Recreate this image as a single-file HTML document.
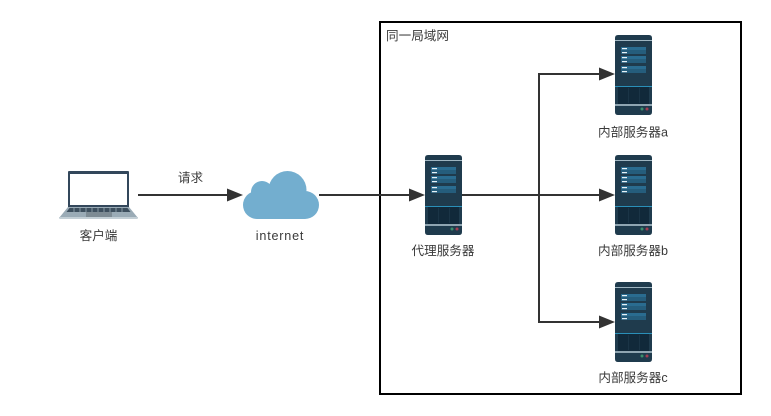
<!DOCTYPE html>
<html><head><meta charset="utf-8"><style>
html,body{margin:0;padding:0;background:#fff}
svg{display:block}
text{font-family:"Liberation Sans","Noto Sans CJK SC",sans-serif;font-size:12.6px;fill:#3a3a3a;text-anchor:middle}
</style></head><body>
<svg width="771" height="416" viewBox="0 0 771 416" xmlns="http://www.w3.org/2000/svg">
<defs>
<g id="srv">
<path d="M3 0H34Q37 0 37 3V77Q37 80 34 80H3Q0 80 0 77V3Q0 0 3 0Z" fill="#1f3b4d"/>
<rect x="0" y="5" width="37" height="1" fill="#9fb6c2"/>
<rect x="0" y="51" width="37" height="1" fill="#2a8fb8"/>
<rect x="3" y="52" width="31" height="17" fill="#11293a"/>
<rect x="13" y="53" width="1" height="15" fill="#1a3446"/>
<rect x="24" y="53" width="1" height="15" fill="#1a3446"/>
<rect x="0" y="69" width="37" height="2" fill="#8fa5b1"/>
<rect x="6" y="12" width="25" height="7" fill="#255d7c"/>
<rect x="6" y="21" width="25" height="7" fill="#255d7c"/>
<rect x="6" y="31" width="25" height="7" fill="#255d7c"/>
<rect x="6" y="12" width="25" height="3" fill="#2a6c90"/>
<rect x="6" y="21" width="25" height="3" fill="#2a6c90"/>
<rect x="6" y="31" width="25" height="3" fill="#2a6c90"/>
<rect x="7" y="13" width="5" height="1.200" fill="#e8f2f6"/>
<rect x="7" y="17" width="5" height="1.200" fill="#e8f2f6"/>
<rect x="7" y="22" width="5" height="1.200" fill="#e8f2f6"/>
<rect x="7" y="26" width="5" height="1.200" fill="#e8f2f6"/>
<rect x="7" y="32" width="5" height="1.200" fill="#e8f2f6"/>
<rect x="7" y="36" width="5" height="1.200" fill="#e8f2f6"/>
<circle cx="27" cy="74" r="1.500" fill="#3c8f6b"/>
<circle cx="32" cy="74" r="1.500" fill="#a33d52"/>
</g>
</defs>

<rect x="380" y="22" width="361" height="372" fill="#fff" stroke="#000" stroke-width="2"/>
<text x="417.500" y="40">同一局域网</text>

<!-- laptop -->
<rect x="68" y="171" width="61" height="37" rx="1" fill="#33475b"/>
<rect x="70" y="174" width="57" height="31" fill="#fff"/>
<path d="M68 207H129L138 218H59Z" fill="#9aabb6"/>
<path d="M69.500 208H127.500L130.500 212H66.500Z" fill="#3d4f5e"/>
<g stroke="#9aabb6" stroke-width="0.8">
<path d="M74 208V212M80 208V212M86 208V212M92 208V212M98 208V212M104 208V212M110 208V212M116 208V212M122 208V212"/>
</g>
<rect x="86" y="212" width="26" height="5" fill="#7d8b94"/>
<path d="M59 217H138V218Q138 219 136 219H61Q59 219 59 218Z" fill="#c3cfd6"/>
<text x="98.500" y="240">客户端</text>

<!-- cloud -->
<g fill="#73aecf">
<circle cx="287.500" cy="190" r="19"/>
<circle cx="262" cy="192" r="11"/>
<circle cx="257" cy="205" r="14"/>
<circle cx="305" cy="205" r="14"/>
<rect x="257" y="190" width="48" height="29"/>
</g>
<text x="280" y="240" letter-spacing="0.8">internet</text>

<!-- connectors -->
<g fill="none" stroke="#333" stroke-width="2">
<path d="M138 195H230"/>
<path d="M319 195H412"/>
<path d="M462 195H601"/>
<path d="M601 74H539V322H601"/>
</g>
<g fill="#333">
<path d="M227 188.500L243 195L227 201.500Z"/>
<path d="M409 188.500L425 195L409 201.500Z"/>
<path d="M599 67.500L615 74L599 80.500Z"/>
<path d="M599 188.500L615 195L599 201.500Z"/>
<path d="M599 315.500L615 322L599 328.500Z"/>
</g>
<text x="190.500" y="182">请求</text>

<use href="#srv" x="425" y="155"/>
<use href="#srv" x="615" y="35"/>
<use href="#srv" x="615" y="155"/>
<use href="#srv" x="615" y="282"/>

<text x="443" y="255">代理服务器</text>
<text x="633" y="136.500">内部服务器a</text>
<text x="633" y="255">内部服务器b</text>
<text x="633" y="382">内部服务器c</text>
</svg>
</body></html>
